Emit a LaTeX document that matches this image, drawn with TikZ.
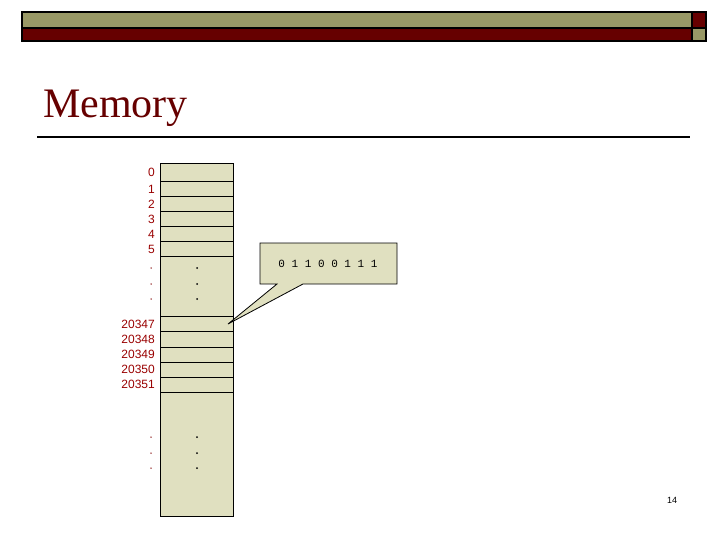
\documentclass[tikz,border=0pt]{standalone}
\usepackage{fontspec}
\setmainfont{Liberation Serif}
\setsansfont{Liberation Sans}
\setmonofont{Liberation Mono}
\begin{document}
\begin{tikzpicture}[x=1pt,y=-1pt,
  lab/.style={anchor=east,text=red!60!black,font=\sffamily\fontsize{12}{12}\selectfont,inner sep=0pt},
  dot/.style={fill=black,inner sep=0pt,minimum size=2pt,circle},
  ldot/.style={fill=red!50!black,inner sep=0pt,minimum size=1.5pt,circle}]
\definecolor{olive}{RGB}{153,153,102}
\definecolor{dred}{RGB}{102,0,0}
\definecolor{cell}{RGB}{224,224,192}
\useasboundingbox (0,0) rectangle (720,540);
% top bar
\fill[olive] (22,12) rectangle (692,28);
\fill[dred] (22,28) rectangle (692,41);
\fill[dred] (692,12) rectangle (706,28);
\fill[olive] (692,28) rectangle (706,41);
\draw[line width=1.2pt] (22,12) rectangle (706,41);
\draw[line width=1.2pt] (22,28) -- (706,28) (692,12) -- (692,41);
% title
\node[anchor=base west,text=dred,font=\fontsize{42}{42}\selectfont,inner sep=0pt] (title) at (43,118) {Memory};
\coordinate (rl) at (37,137); \coordinate (rr) at (690,137);
\draw[line width=1.3pt] (rl) -- (rr);
% memory column
\draw[fill=cell,line width=0.8pt] (160,163) rectangle (233,516);
\foreach \y in {181,196,211,226,241,256,316,331,347,362,377,392}
  \draw[line width=0.8pt] (160,\y) -- (233,\y);
\foreach \t/\y in {0/172,1/189,2/204,3/219,4/234,5/249,20347/324,20348/339,20349/354,20350/369,20351/384}
  \node[lab] (l\t) at (155,\y) {\t};
\foreach \y in {268,284,299,437,453,468}{
  \node[ldot] at (151,\y) {};
  \node[dot] at (197,\y) {};}
% callout
\draw[fill=cell,line width=0.8pt] (260,243) -- (397,243) -- (397,284) -- (303,284) -- (228,324) -- (277,284) -- (260,284) -- cycle;
\node[font=\ttfamily\fontsize{11}{11}\selectfont] (bits) at (328,264) {0 1 1 0 0 1 1 1};
\node[font=\sffamily\fontsize{9}{9}\selectfont] (pg) at (672,500) {14};
\end{tikzpicture}
\end{document}
